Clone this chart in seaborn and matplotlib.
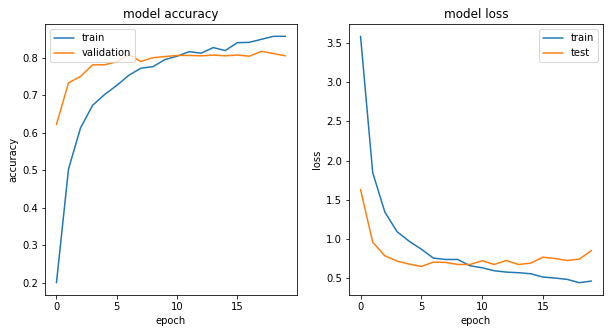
import matplotlib
matplotlib.use("Agg")
import matplotlib.pyplot as plt
import seaborn as sns
import pandas as pd
import numpy as np

epochs = list(range(20))
train_acc = [0.200, 0.503, 0.613, 0.673, 0.702, 0.726, 0.753, 0.772, 0.776, 0.795,
             0.804, 0.816, 0.812, 0.827, 0.819, 0.840, 0.841, 0.849, 0.857, 0.857]
val_acc = [0.622, 0.733, 0.750, 0.781, 0.781, 0.789, 0.808, 0.790, 0.800, 0.803,
           0.806, 0.806, 0.805, 0.807, 0.805, 0.807, 0.804, 0.817, 0.811, 0.805]
train_loss = [3.585, 1.848, 1.345, 1.096, 0.973, 0.872, 0.758, 0.741, 0.741, 0.661,
              0.635, 0.597, 0.580, 0.572, 0.559, 0.517, 0.504, 0.487, 0.445, 0.466]
test_loss = [1.632, 0.961, 0.787, 0.720, 0.682, 0.652, 0.707, 0.703, 0.677, 0.677,
             0.724, 0.677, 0.728, 0.677, 0.694, 0.770, 0.753, 0.728, 0.745, 0.855]

sns.set_style("ticks", {"axes.edgecolor": "black", "xtick.color": "black",
                        "ytick.color": "black", "axes.labelcolor": "black",
                        "text.color": "black"})
plt.rcParams["font.family"] = ["DejaVu Sans"]
plt.rcParams["font.size"] = 10

blue = "#1f77b4"
orange = "#ff7f0e"

fig, (ax1, ax2) = plt.subplots(1, 2, figsize=(8.5, 4.625), dpi=72)
W, H = 612, 333
ax1.set_position([45/W, 1-295/H, (297-45)/W, (295-24)/H])
ax2.set_position([349/W, 1-295/H, (603-349)/W, (295-24)/H])

acc_df = pd.DataFrame({"epoch": epochs * 2,
                       "value": train_acc + val_acc,
                       "series": ["train"] * 20 + ["validation"] * 20})
loss_df = pd.DataFrame({"epoch": epochs * 2,
                        "value": train_loss + test_loss,
                        "series": ["train"] * 20 + ["test"] * 20})

sns.lineplot(data=acc_df, x="epoch", y="value", hue="series",
             palette=[blue, orange], ax=ax1, linewidth=1.5)
sns.lineplot(data=loss_df, x="epoch", y="value", hue="series",
             palette=[blue, orange], ax=ax2, linewidth=1.5)

ax1.set_title("model accuracy", fontsize=12)
ax1.set_xlabel("epoch")
ax1.set_ylabel("accuracy")
ax1.legend(loc="upper left", title=None)
ax1.set_xticks([0, 5, 10, 15])

ax2.set_title("model loss", fontsize=12)
ax2.set_xlabel("epoch")
ax2.set_ylabel("loss")
ax2.legend(loc="upper right", title=None)
ax2.set_xticks([0, 5, 10, 15])

for ax in (ax1, ax2):
    for s in ax.spines.values():
        s.set_visible(True)
        s.set_color("black")

fig.savefig("out.png", dpi=72)
